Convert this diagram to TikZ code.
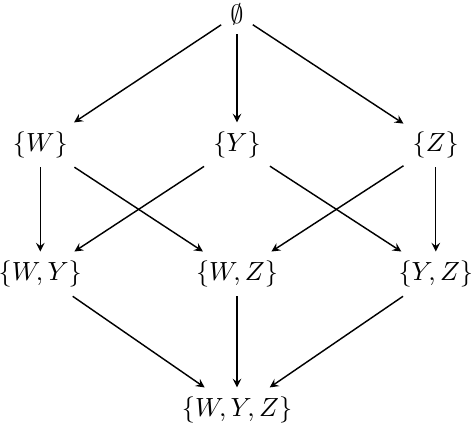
\documentclass[tikz,border=0pt,11pt]{standalone}
\begin{document}
\begin{tikzpicture}[>=stealth]
    \useasboundingbox (0,0) rectangle (6.94,-6.21);
    \node (E) at (3.47,-0.21) {$\emptyset$};
    \node (W) at (0.59,-2.12) {$\{W\}$};
    \node (Y) at (3.47,-2.12) {$\{Y\}$};
    \node (Z) at (6.38,-2.12) {$\{Z\}$};
    \node (WY) at (0.59,-4.01) {$\{W,Y\}$};
    \node (WZ) at (3.47,-4.01) {$\{W,Z\}$};
    \node (YZ) at (6.38,-4.01) {$\{Y,Z\}$};
    \node (WYZ) at (3.47,-6.0) {$\{W,Y,Z\}$};
    \draw[->,semithick] (E) -- (W);
    \draw[->,semithick] (E) -- (Y);
    \draw[->,semithick] (E) -- (Z);
    \draw[->,semithick] (W) -- (WY);
    \draw[->,semithick] (W) -- (WZ);
    \draw[->,semithick] (Y) -- (WY);
    \draw[->,semithick] (Y) -- (YZ);
    \draw[->,semithick] (Z) -- (WZ);
    \draw[->,semithick] (Z) -- (YZ);
    \draw[->,semithick] (WY) -- (WYZ);
    \draw[->,semithick] (WZ) -- (WYZ);
    \draw[->,semithick] (YZ) -- (WYZ);
\end{tikzpicture}
\end{document}
